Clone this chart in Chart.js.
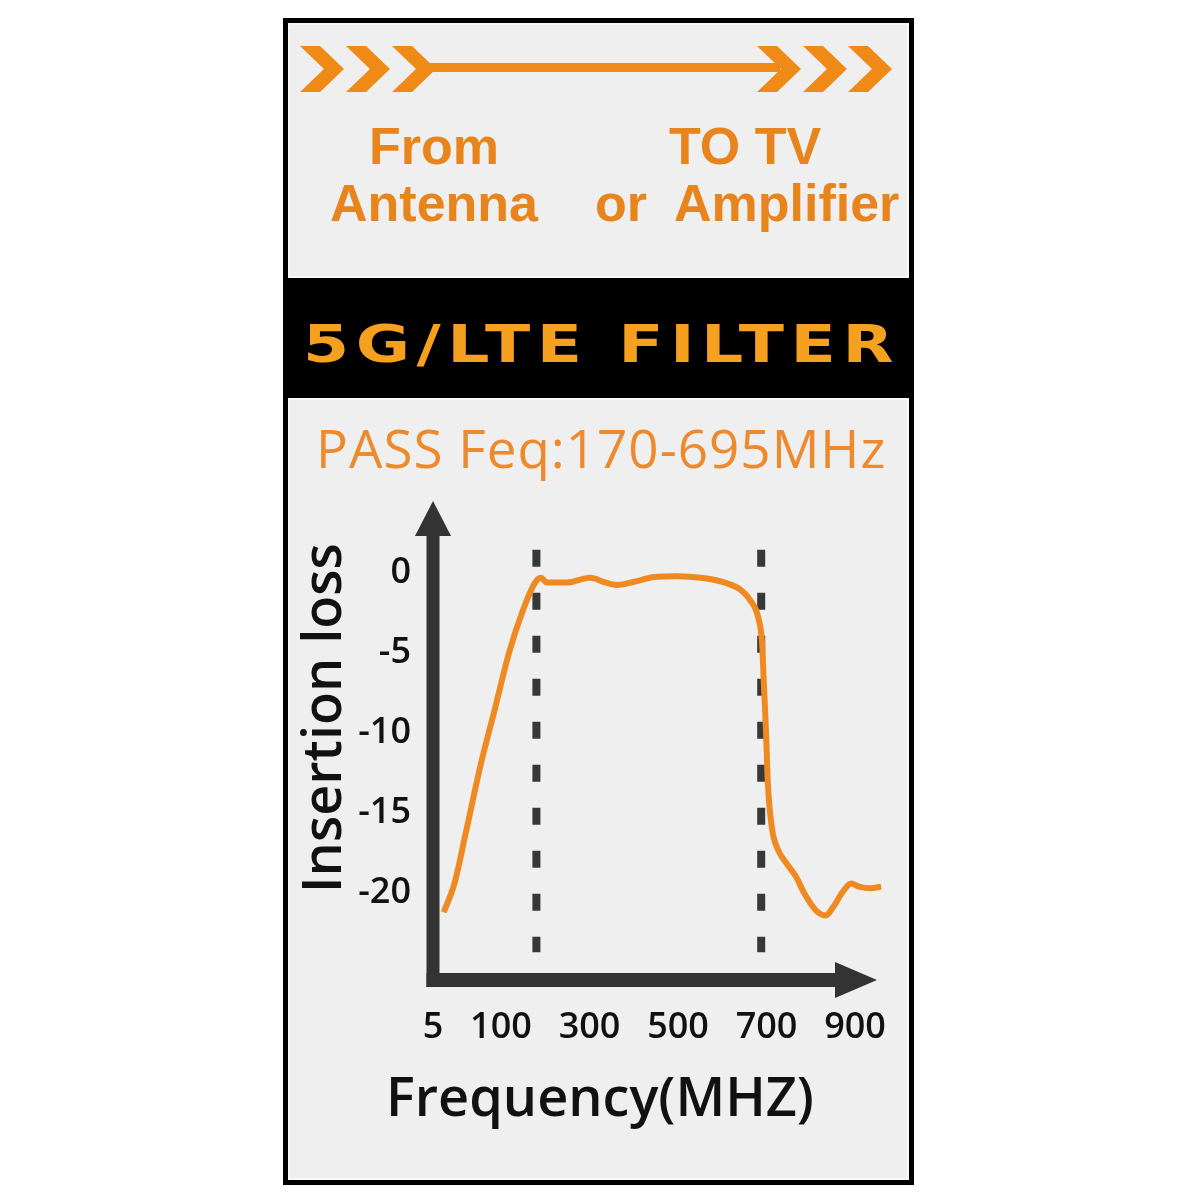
<!DOCTYPE html>
<html>
<head>
<meta charset="utf-8">
<script src="https://cdn.jsdelivr.net/npm/chart.js@4"></script>
<style>
  body { margin: 0; background: #fff; width: 1200px; height: 1200px; position: relative; overflow: hidden; }
  .abs { position: absolute; }
  #frame { left: 283px; top: 18px; width: 631px; height: 1167px; background: #000; }
  .panel { background: #efefef; box-shadow: inset 0 0 0 2px #f8f8f8; }
  .orange { color: #e8841c; font-family: 'Liberation Sans', Arial, sans-serif; font-weight: bold; font-size: 52px; line-height: 57px; text-align: center; white-space: pre; }
  #band { left: 303px; top: 319px; font-family: 'DejaVu Sans', sans-serif; font-weight: bold; font-size: 51px; line-height: 51px; letter-spacing: 5px; color: #f5a01e; white-space: pre; transform: scaleX(1.3); transform-origin: 0 0; }
  #pass { left: 316px; top: 421px; font-family: 'Open Sans', sans-serif; font-size: 53px; line-height: 53px; letter-spacing: 1px; color: #ee8a2e; white-space: pre; }
  .axtitle { font-family: 'Open Sans', sans-serif; font-weight: 600; font-size: 54px; line-height: 54px; color: #111; text-align: center; white-space: pre; }
  #chart { left: 0; top: 0; }
</style>
</head>
<body>
<div id="frame" class="abs"></div>
<div class="abs panel" style="left:288px;top:23px;width:621px;height:255px"></div>
<div class="abs panel" style="left:288px;top:398px;width:621px;height:782px"></div>

<svg class="abs" style="left:0;top:0" width="1200" height="120">
  <g fill="#ef8a17">
    <polygon points="300,46 320,46 344,69 320,92 300,92 324,69"/>
    <polygon points="346,46 366,46 390,69 366,92 346,92 370,69"/>
    <polygon points="392,46 412,46 436,69 412,92 392,92 416,69"/>
    <rect x="420" y="63" width="360" height="9"/>
    <polygon points="757,46 777,46 801,69 777,92 757,92 781,69"/>
    <polygon points="803,46 823,46 847,69 823,92 803,92 827,69"/>
    <polygon points="848,46 868,46 892,69 868,92 848,92 872,69"/>
  </g>
</svg>

<div class="abs orange" style="left:284px;top:118px;width:300px">From
Antenna</div>
<div class="abs orange" style="left:595px;top:118px;width:300px">TO TV
or  Amplifier</div>
<div id="band" class="abs">5G/LTE FILTER</div>
<div id="pass" class="abs">PASS Feq:170-695MHz</div>

<div class="abs axtitle" style="left:300px;top:1068px;width:600px">Frequency(MHZ)</div>
<div class="abs axtitle" style="left:70px;top:691px;width:500px;height:54px;transform:rotate(-90deg)">Insertion loss</div>

<canvas id="chart" class="abs" width="1200" height="1200"></canvas>

<script>
// insertion loss curve
const freqMHz = [20, 35, 51, 71, 92, 118, 150, 177, 190, 204, 249, 301, 337, 364, 401, 446, 498, 552, 606, 642,
                 663, 681, 690, 694, 699, 703, 712, 726, 744, 767, 785, 812, 834, 850, 873, 891, 909, 936, 959];
const lossDb = [-21.2, -19.4, -16.2, -12.1, -8.4, -5.0, -2.3, -0.6, -0.3, -0.6, -0.6, -0.3, -0.6, -0.75, -0.55,
                -0.25, -0.2, -0.3, -0.6, -1.05, -1.7, -2.75, -4.4, -6.9, -10.0, -13.1, -15.9, -17.3, -18.1, -19.0,
                -20.0, -21.1, -21.4, -20.9, -19.9, -19.4, -19.6, -19.7, -19.6];

// pass band markers (dashed lines) and their vertical extent
const passBand = [180, 688];
const markerSpan = [1.45, -23.7];

const xTicks = [5, 100, 300, 500, 700, 900];
const yTicks = [0, -5, -10, -15, -20];

// x axis in the picture is squeezed between 5 and 100
const X_BREAK = 100;
const X_BREAK_FRAC = 68 / 449;

class PiecewiseScale extends Chart.LinearScale {
  _dec(v) {
    if (v <= X_BREAK) return (v - this.min) / (X_BREAK - this.min) * X_BREAK_FRAC;
    return X_BREAK_FRAC + (v - X_BREAK) / (this.max - X_BREAK) * (1 - X_BREAK_FRAC);
  }
  getPixelForValue(v) {
    return v === null ? NaN : this.getPixelForDecimal(this._dec(v));
  }
  getValueForPixel(p) {
    const d = this.getDecimalForPixel(p);
    if (d <= X_BREAK_FRAC) return this.min + d / X_BREAK_FRAC * (X_BREAK - this.min);
    return X_BREAK + (d - X_BREAK_FRAC) / (1 - X_BREAK_FRAC) * (this.max - X_BREAK);
  }
}
PiecewiseScale.id = 'piecewise';
PiecewiseScale.defaults = Chart.LinearScale.defaults;
Chart.register(PiecewiseScale);

const axisArrows = {
  id: 'axisArrows',
  afterDraw(chart) {
    const ctx = chart.ctx;
    const ca = chart.chartArea;
    ctx.save();
    ctx.fillStyle = '#333';
    // y shaft + head
    ctx.fillRect(ca.left - 6.5, ca.top + 30, 13, ca.bottom - ca.top - 23);
    ctx.beginPath();
    ctx.moveTo(ca.left, ca.top);
    ctx.lineTo(ca.left + 18, ca.top + 35);
    ctx.lineTo(ca.left - 18, ca.top + 35);
    ctx.closePath();
    ctx.fill();
    // x shaft + head
    ctx.fillRect(ca.left - 6.5, ca.bottom - 7, ca.right - ca.left - 38, 14);
    ctx.beginPath();
    ctx.moveTo(ca.right - 5, ca.bottom);
    ctx.lineTo(ca.right - 47, ca.bottom - 18);
    ctx.lineTo(ca.right - 47, ca.bottom + 18);
    ctx.closePath();
    ctx.fill();
    ctx.restore();
  }
};

const curve = freqMHz.map((f, i) => ({x: f, y: lossDb[i]}));
const markerSet = passBand.map(f => ({
  data: [{x: f, y: markerSpan[0]}, {x: f, y: markerSpan[1]}],
  borderColor: '#383838',
  borderWidth: 8,
  borderDash: [17, 26],
  pointRadius: 0
}));

const tickFont = {family: "'Open Sans', sans-serif", size: 36, weight: '600'};

new Chart(document.getElementById('chart'), {
  type: 'line',
  data: {
    datasets: [{
      data: curve,
      borderColor: '#ef8a22',
      borderWidth: 6,
      pointRadius: 0,
      cubicInterpolationMode: 'monotone'
    }].concat(markerSet)
  },
  options: {
    responsive: false,
    animation: false,
    devicePixelRatio: 1,
    layout: {padding: {left: 353, right: 318, top: 501, bottom: 150}},
    plugins: {legend: {display: false}, tooltip: {enabled: false}},
    scales: {
      x: {
        type: 'piecewise',
        min: 5,
        max: 961,
        grid: {display: false},
        border: {display: false},
        afterBuildTicks: s => { s.ticks = xTicks.map(v => ({value: v})); },
        afterFit: s => { s.height = 70; },
        ticks: {autoSkip: false, maxRotation: 0, padding: 18, color: '#111', font: tickFont,
                callback: v => String(v)}
      },
      y: {
        type: 'linear',
        min: -25.4375,
        max: 4.5,
        grid: {display: false},
        border: {display: false},
        afterBuildTicks: s => { s.ticks = yTicks.map(v => ({value: v})); },
        afterFit: s => { s.width = 80; },
        ticks: {padding: 14, color: '#111', font: tickFont, callback: v => String(v)}
      }
    }
  },
  plugins: [axisArrows]
});
</script>
</body>
</html>
